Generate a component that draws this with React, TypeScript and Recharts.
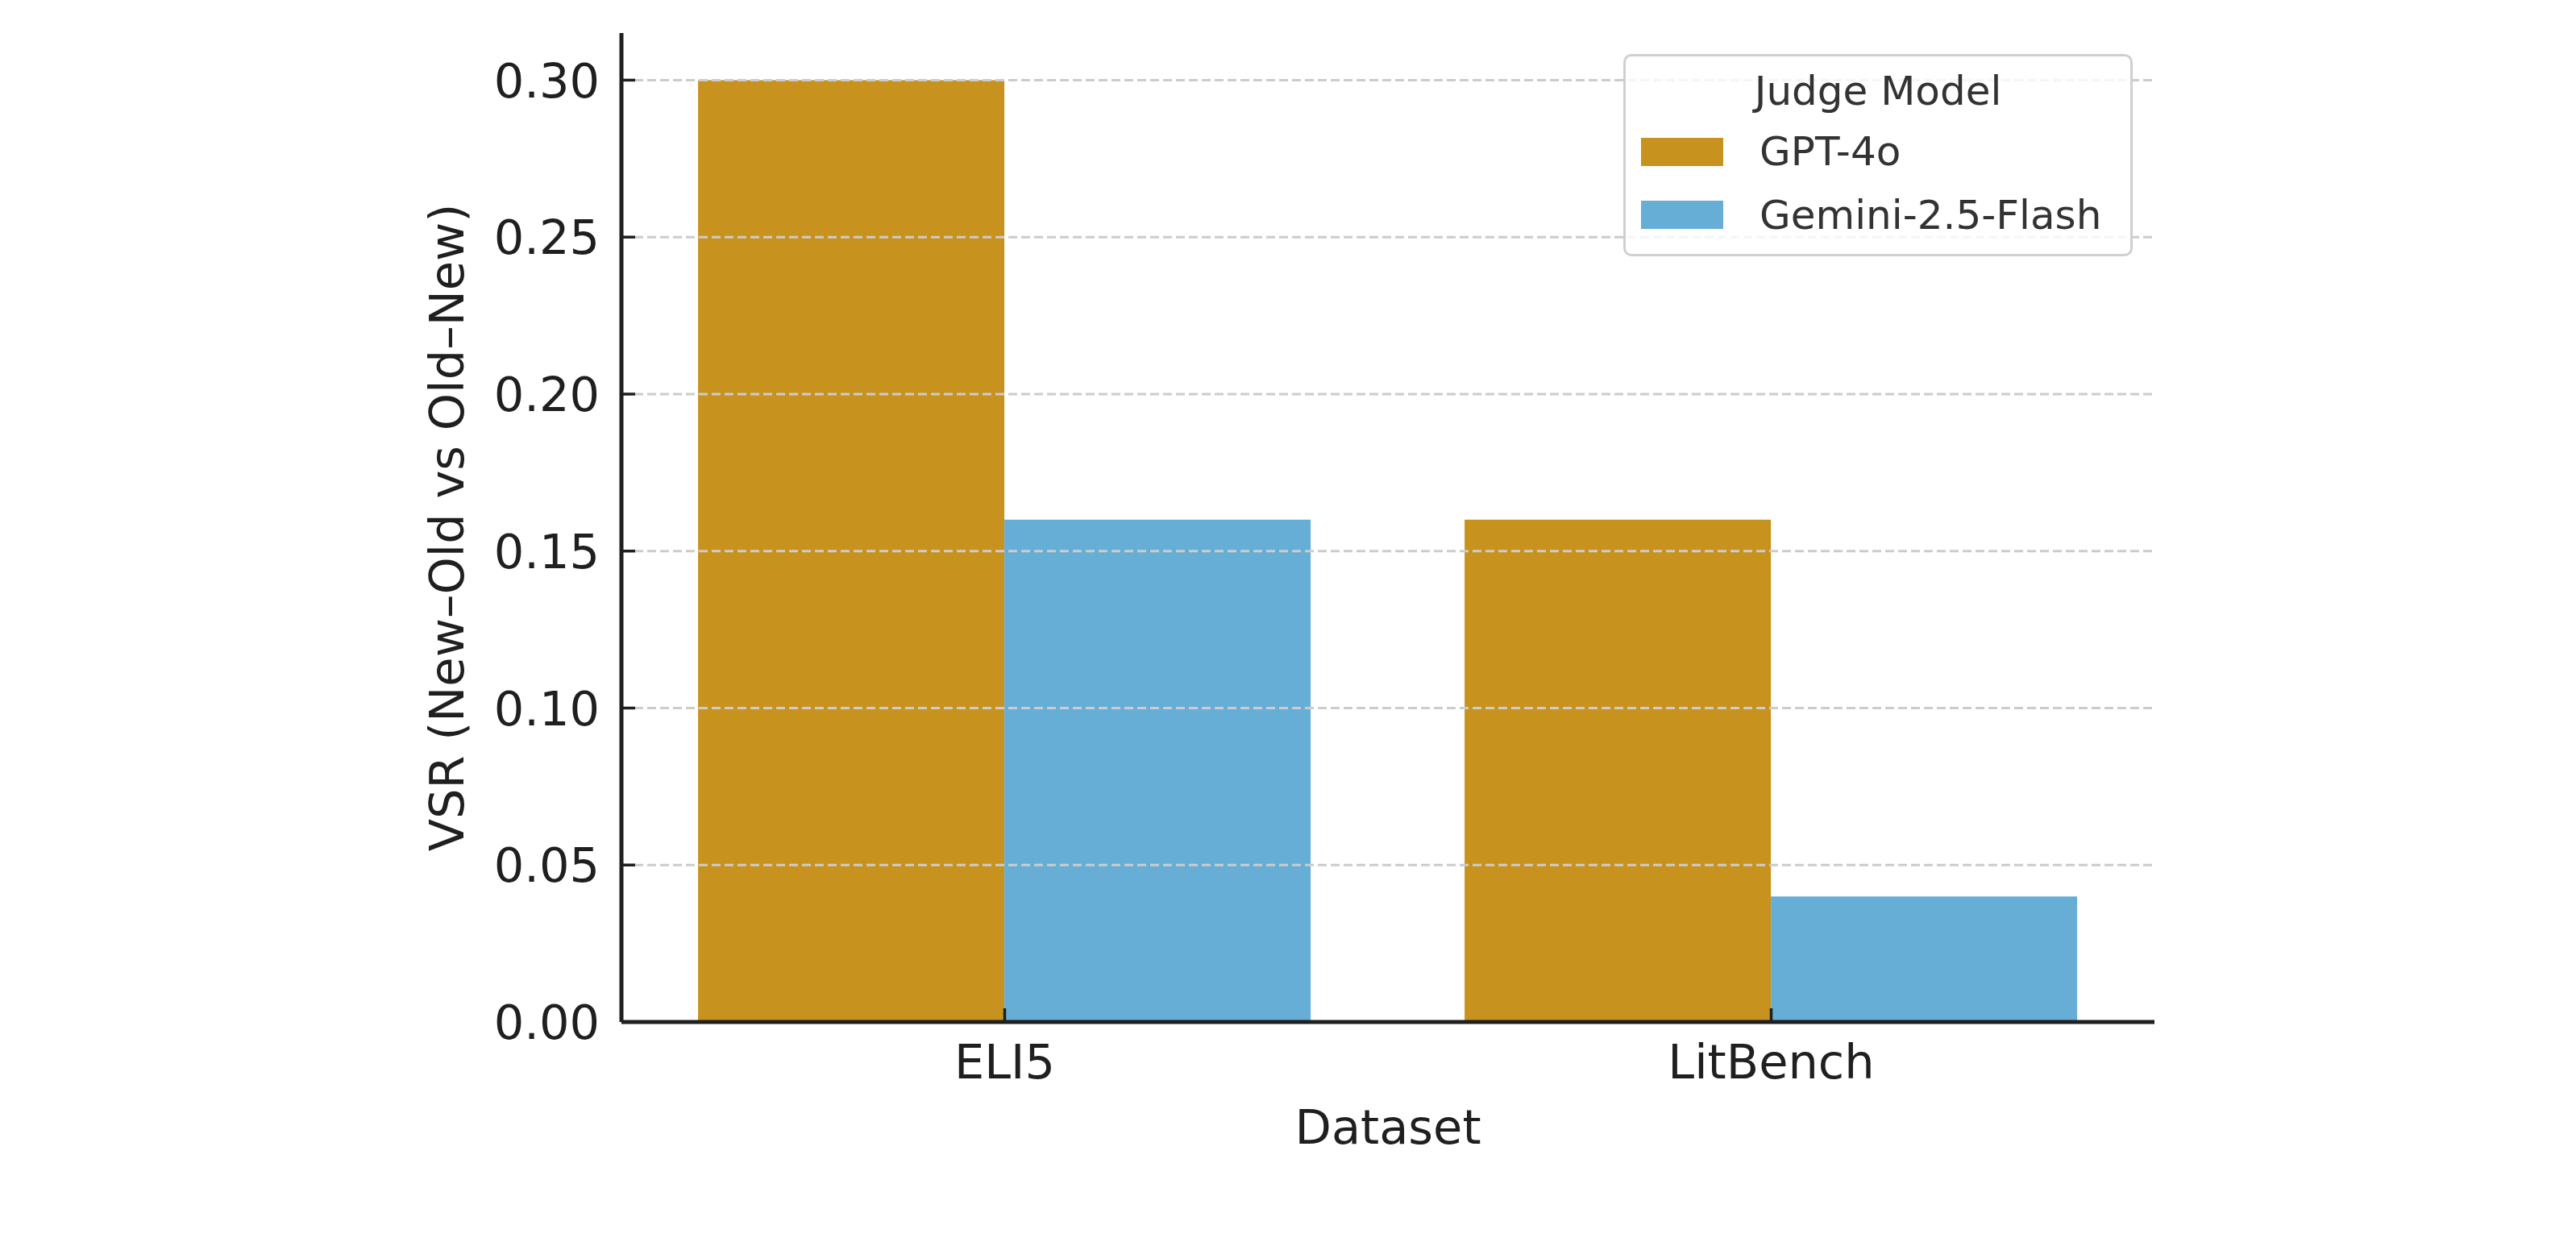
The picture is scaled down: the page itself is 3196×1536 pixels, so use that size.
import { BarChart, Bar, XAxis, YAxis, Legend, ReferenceLine } from 'recharts';

const categories = ['ELI5', 'LitBench'];
const gpt4oValues = [0.30, 0.16];
const geminiValues = [0.16, 0.04];
const seriesNames = ['GPT-4o', 'Gemini-2.5-Flash'];
const seriesColors = ['#C8921F', '#67AED7'];
const yTicks = [0, 0.05, 0.1, 0.15, 0.2, 0.25, 0.3];

const data = categories.map((c, i) => ({ dataset: c, gpt: gpt4oValues[i], gemini: geminiValues[i] }));

const FONT = '"DejaVu Sans", sans-serif';
const INK = '#1f1f1f';
const Y_MARGIN = 27;
const X_MARGIN = 28;
const TICK_LEN = 17;

const YTick = (props: any) => {
  const { x, y, payload } = props;
  return (
    <g>
      <line x1={x + Y_MARGIN} x2={x + Y_MARGIN + TICK_LEN} y1={y} y2={y} stroke={INK} strokeWidth={3.5} />
      <text x={x} y={y} dy="0.36em" textAnchor="end" fontFamily={FONT} fontSize={59} fill={INK}>
        {Number(payload.value).toFixed(2)}
      </text>
    </g>
  );
};

const XTick = (props: any) => {
  const { x, y, payload } = props;
  return (
    <g>
      <line x1={x} x2={x} y1={y - X_MARGIN} y2={y - X_MARGIN - TICK_LEN} stroke={INK} strokeWidth={3.5} />
      <text x={x} y={y} dy="0.71em" textAnchor="middle" fontFamily={FONT} fontSize={59} fill={INK}>
        {payload.value}
      </text>
    </g>
  );
};

const YLabel = (props: any) => {
  const { viewBox } = props;
  const cx = viewBox.x + viewBox.width - 217;
  const cy = viewBox.y + viewBox.height / 2;
  return (
    <text x={cx} y={cy} dy="0.36em" textAnchor="middle" transform={`rotate(-90, ${cx}, ${cy})`}
      fontFamily={FONT} fontSize={59} fill={INK}>
      VSR (New–Old vs Old–New)
    </text>
  );
};

const XLabel = (props: any) => {
  const { viewBox } = props;
  const cx = viewBox.x + viewBox.width / 2;
  const cy = viewBox.y + 130;
  return (
    <text x={cx} y={cy} dy="0.36em" textAnchor="middle" fontFamily={FONT} fontSize={59} fill={INK}>
      Dataset
    </text>
  );
};

const LegendBox = () => (
  <div style={{
    position: 'relative', width: 632, height: 251, boxSizing: 'border-box',
    border: '3px solid #cfcfcf', borderRadius: 10, background: 'rgba(255,255,255,0.8)',
    fontFamily: FONT, color: '#333',
  }}>
    <div style={{ position: 'absolute', left: 0, right: 0, top: 13, height: 60, lineHeight: '60px', textAlign: 'center', fontSize: 50 }}>
      Judge Model
    </div>
    {seriesNames.map((name, i) => (
      <div key={name}>
        <div style={{ position: 'absolute', left: 19, top: 101 + i * 78, width: 102, height: 35, background: seriesColors[i] }} />
        <div style={{ position: 'absolute', left: 166, top: 88 + i * 79, height: 60, lineHeight: '60px', fontSize: 50, whiteSpace: 'nowrap' }}>
          {name}
        </div>
      </div>
    ))}
  </div>
);

export default function App() {
  return (
    <div style={{ position: 'absolute', left: 0, top: 0, width: 3196, height: 1536, background: '#fff' }}>
      <BarChart width={3196} height={1536} data={data}
        margin={{ top: 41, right: 523, left: 0, bottom: 0 }}
        barCategoryGap="10%" barGap={0}>
        <YAxis type="number" domain={[0, 0.315]} ticks={yTicks} width={771}
          tickSize={0} tickMargin={Y_MARGIN} tick={<YTick />}
          axisLine={{ stroke: INK, strokeWidth: 5 }} tickLine={false}
          label={<YLabel />} />
        <Bar dataKey="gpt" name={seriesNames[0]} fill={seriesColors[0]} isAnimationActive={false} />
        <Bar dataKey="gemini" name={seriesNames[1]} fill={seriesColors[1]} isAnimationActive={false} />
        {yTicks.filter(t => t > 0).map(t => (
          <ReferenceLine key={t} y={t} stroke="#cccccc" strokeWidth={3} strokeDasharray="11 5" />
        ))}
        <XAxis dataKey="dataset" height={268} tickSize={0} tickMargin={X_MARGIN} tick={<XTick />}
          axisLine={{ stroke: INK, strokeWidth: 5 }} tickLine={false}
          label={<XLabel />} />
        <Legend layout="horizontal" verticalAlign="middle" align="center"
          wrapperStyle={{ left: 2014, top: 67, width: 632, height: 251 }}
          content={() => <LegendBox />} />
      </BarChart>
    </div>
  );
}
